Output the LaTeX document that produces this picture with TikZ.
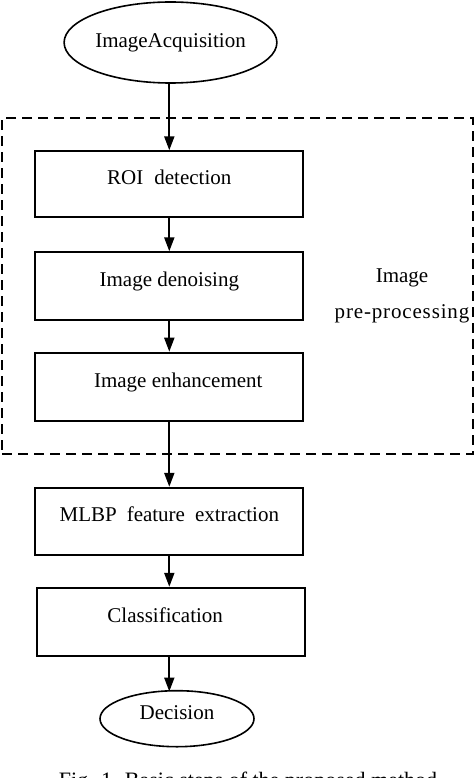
\documentclass[tikz,border=0pt]{standalone}
\usepackage{fontspec}
\setmainfont{Liberation Serif}
\usetikzlibrary{arrows.meta,shapes.geometric}
\begin{document}
\begin{tikzpicture}[x=1pt,y=-1pt,
  every node/.style={font=\fontsize{21}{25}\selectfont},
  box/.style={draw,line width=2pt,minimum width=268pt,inner sep=0pt,text height=13pt,text depth=12pt},
  term/.style={ellipse,draw,line width=1.6pt,inner sep=0pt},
  arr/.style={-{Triangle[length=14pt,width=10pt]},line width=2pt},
  group/.style={draw,dash pattern=on 10pt off 6pt,line width=2.2pt,inner sep=0pt,anchor=north west}]
\path[use as bounding box] (0,0) rectangle (474,778);
\clip (0,0) rectangle (474,778);
% dashed pre-processing group
\node[group,minimum width=471pt,minimum height=335.7pt] (pre) at (1.2,117) {};
\node[align=center] (lbl) at (402,295.5) {Image\\[11pt]{\addfontfeature{LetterSpace=4}pre-processing}};
% nodes
\node[term,minimum width=197pt,minimum height=81pt] (acq) at (170.5,42.5) {ImageAcquisition};
\node[box,minimum height=66pt] (roi) at (169.3,184.3) {ROI\hspace{11pt}detection};
\node[box,minimum height=68pt] (den) at (169.3,286.3) {Image denoising};
\node[box,minimum height=68pt] (enh) at (169.3,386.7) {\hspace*{18pt}Image enhancement};
\node[box,minimum height=67pt] (mlbp) at (169.3,521.3) {MLBP\hspace{10pt}feature\hspace{10pt}extraction};
\node[box,minimum height=68pt] (cls) at (171.2,621.8) {Classification\hspace*{12pt}};
\node[term,minimum width=154pt,minimum height=56pt,text height=14pt,text depth=12pt] (dec) at (177,718.7) {Decision};
% caption (cut by the picture's lower edge, as in the reference)
\node[anchor=base,font=\fontsize{22}{26}\selectfont] (cap) at (248,787) {Fig. 1. Basic steps of the proposed method};
% connectors
\draw[arr] (roi.north |- acq.south) -- (roi.north);
\draw[arr] (roi.south) -- (den.north);
\draw[arr] (den.south) -- (enh.north);
\draw[arr] (enh.south) -- (mlbp.north);
\draw[arr] (mlbp.south) -- (mlbp.south |- cls.north);
\draw[arr] (cls.south -| mlbp.south) -- ++(0,34.7);
\end{tikzpicture}
\end{document}
